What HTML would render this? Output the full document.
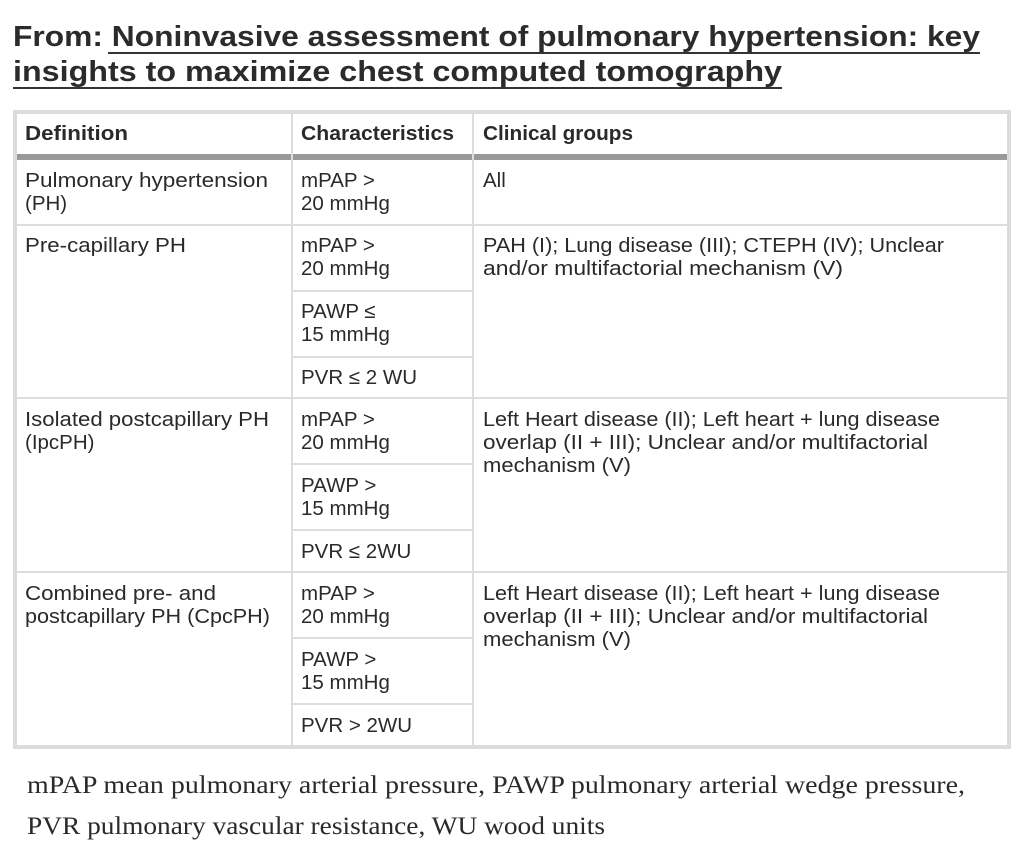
<!DOCTYPE html>
<html><head><meta charset="utf-8"><style>
html,body{margin:0;padding:0;background:#fff;}
svg{display:block;}
.c{font-family:"Liberation Sans",sans-serif;font-size:20.5px;fill:#2a2a2a;}
.h{font-family:"Liberation Sans",sans-serif;font-size:20px;font-weight:bold;fill:#2a2a2a;}
.t{font-family:"Liberation Sans",sans-serif;font-size:29px;font-weight:bold;fill:#2b2b2b;}
.f{font-family:"Liberation Serif",serif;font-size:25px;fill:#2a2a2a;}
</style></head><body>
<svg width="1024" height="850" viewBox="0 0 1024 850" xmlns="http://www.w3.org/2000/svg">
<text class="t" x="13" y="46" textLength="967" lengthAdjust="spacingAndGlyphs">From: Noninvasive assessment of pulmonary hypertension: key</text>
<text class="t" x="13" y="81" textLength="769" lengthAdjust="spacingAndGlyphs">insights to maximize chest computed tomography</text>
<rect x="108" y="52" width="872" height="2" fill="#333"/>
<rect x="13" y="87" width="769" height="2" fill="#333"/>

<rect x="15" y="112" width="994" height="635" fill="none" stroke="#dcdcdc" stroke-width="4"/>
<rect x="17" y="154" width="990" height="6" fill="#999"/>
<g fill="#dddddd">
<rect x="291" y="114" width="2" height="631"/>
<rect x="472" y="114" width="2" height="631"/>
<rect x="17" y="224" width="990" height="2"/>
<rect x="17" y="397" width="990" height="2"/>
<rect x="17" y="571" width="990" height="2"/>
<rect x="293" y="290" width="179" height="2"/>
<rect x="293" y="356" width="179" height="2"/>
<rect x="293" y="463" width="179" height="2"/>
<rect x="293" y="529" width="179" height="2"/>
<rect x="293" y="637" width="179" height="2"/>
<rect x="293" y="703" width="179" height="2"/>
</g>

<text class="h" x="25" y="140" textLength="103" lengthAdjust="spacingAndGlyphs">Definition</text>
<text class="h" x="301" y="140" textLength="153" lengthAdjust="spacingAndGlyphs">Characteristics</text>
<text class="h" x="483" y="140" textLength="150" lengthAdjust="spacingAndGlyphs">Clinical groups</text>

<text class="c" x="25" y="187" textLength="243" lengthAdjust="spacingAndGlyphs">Pulmonary hypertension</text>
<text class="c" x="25" y="210">(PH)</text>
<text class="c" x="301" y="187">mPAP &gt;</text>
<text class="c" x="301" y="210">20 mmHg</text>
<text class="c" x="483" y="187">All</text>

<text class="c" x="25" y="252" textLength="161" lengthAdjust="spacingAndGlyphs">Pre-capillary PH</text>
<text class="c" x="301" y="252">mPAP &gt;</text>
<text class="c" x="301" y="275">20 mmHg</text>
<text class="c" x="301" y="318">PAWP ≤</text>
<text class="c" x="301" y="341">15 mmHg</text>
<text class="c" x="301" y="384">PVR ≤ 2 WU</text>
<text class="c" x="483" y="252" textLength="461" lengthAdjust="spacingAndGlyphs">PAH (I); Lung disease (III); CTEPH (IV); Unclear</text>
<text class="c" x="483" y="275" textLength="360" lengthAdjust="spacingAndGlyphs">and/or multifactorial mechanism (V)</text>

<text class="c" x="25" y="426" textLength="244" lengthAdjust="spacingAndGlyphs">Isolated postcapillary PH</text>
<text class="c" x="25" y="449">(IpcPH)</text>
<text class="c" x="301" y="426">mPAP &gt;</text>
<text class="c" x="301" y="449">20 mmHg</text>
<text class="c" x="301" y="492">PAWP &gt;</text>
<text class="c" x="301" y="515">15 mmHg</text>
<text class="c" x="301" y="558">PVR ≤ 2WU</text>
<text class="c" x="483" y="426" textLength="457" lengthAdjust="spacingAndGlyphs">Left Heart disease (II); Left heart + lung disease</text>
<text class="c" x="483" y="449" textLength="445" lengthAdjust="spacingAndGlyphs">overlap (II + III); Unclear and/or multifactorial</text>
<text class="c" x="483" y="472" textLength="148" lengthAdjust="spacingAndGlyphs">mechanism (V)</text>

<text class="c" x="25" y="600" textLength="191" lengthAdjust="spacingAndGlyphs">Combined pre- and</text>
<text class="c" x="25" y="623" textLength="245" lengthAdjust="spacingAndGlyphs">postcapillary PH (CpcPH)</text>
<text class="c" x="301" y="600">mPAP &gt;</text>
<text class="c" x="301" y="623">20 mmHg</text>
<text class="c" x="301" y="666">PAWP &gt;</text>
<text class="c" x="301" y="689">15 mmHg</text>
<text class="c" x="301" y="732">PVR &gt; 2WU</text>
<text class="c" x="483" y="600" textLength="457" lengthAdjust="spacingAndGlyphs">Left Heart disease (II); Left heart + lung disease</text>
<text class="c" x="483" y="623" textLength="445" lengthAdjust="spacingAndGlyphs">overlap (II + III); Unclear and/or multifactorial</text>
<text class="c" x="483" y="646" textLength="148" lengthAdjust="spacingAndGlyphs">mechanism (V)</text>

<text class="f" x="27" y="793" textLength="938" lengthAdjust="spacingAndGlyphs">mPAP mean pulmonary arterial pressure, PAWP pulmonary arterial wedge pressure,</text>
<text class="f" x="27" y="834" textLength="578" lengthAdjust="spacingAndGlyphs">PVR pulmonary vascular resistance, WU wood units</text>
</svg>
</body></html>
